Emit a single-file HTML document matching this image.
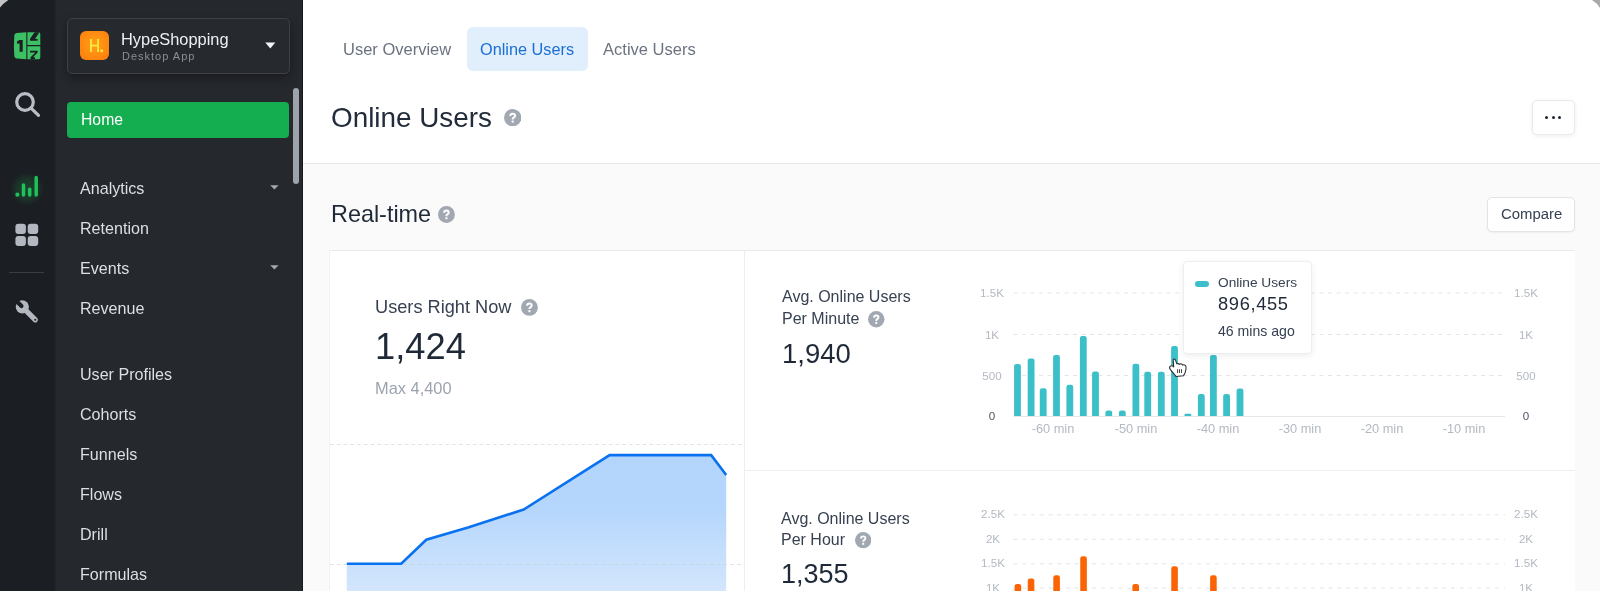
<!DOCTYPE html><html><head><meta charset="utf-8"><style>
*{margin:0;padding:0;box-sizing:border-box}
html,body{width:1600px;height:591px;overflow:hidden;background:#fff}
body{position:relative;font-family:"Liberation Sans",sans-serif}
.t{position:absolute;white-space:nowrap;will-change:transform}
.b{position:absolute}
</style></head><body>
<div class="b" style="left:302px;top:0px;width:1298px;height:163px;background:#fff"></div>
<div class="b" style="left:302px;top:163px;width:1298px;height:428px;background:#fafafa;border-top:1px solid #e9e9ea"></div>
<div class="b" style="left:0px;top:0px;width:53px;height:591px;background:#1b1e22"></div>
<svg class="b" style="left:0;top:0" width="12" height="12"><path d="M0 0H8.3Q3.2 3.4 0 7.6Z" fill="#c3c3c3"/></svg>
<svg class="b" style="left:1588px;top:0" width="12" height="12"><path d="M12 0H3.9Q9 3 12 8Z" fill="#a9aaac"/></svg>
<svg class="b" style="left:10px;top:28px" width="35" height="35" viewBox="0 0 35 35">
<path d="M4.3 7.6Q4.5 5.3 6.7 5L16.3 4.3V31.2L6.7 30.5Q4.5 30.2 4.3 27.9Q3.5 17.8 4.3 7.6Z" fill="#3cc064"/>
<path d="M9.6 11.9H12.7V23.7H9.6V15.4L7.1 15.8V13.2Z" fill="#1b1e22"/>
<path d="M17.4 4.3H28.6Q30.3 4.3 30.3 6V17.1H17.4Z" fill="#3cc064"/>
<path d="M17.4 18.2H30.3V29.5Q30.3 31.2 28.6 31.2H17.4Z" fill="#3cc064"/>
<path d="M20.05 12.8V10.7L24.6 4.2H29.4L25 10.9H27.6V12.8Z" fill="#1b1e22"/>
<path d="M20.05 22.8H27.6V24.4L23 29.2H25V31.3H20.6V29.2L25.4 24.4H20.05Z" fill="#1b1e22"/>
</svg>
<svg class="b" style="left:13px;top:90px" width="28" height="28" viewBox="0 0 28 28">
<circle cx="12" cy="12" r="8.3" fill="none" stroke="#b9bec6" stroke-width="3.2"/>
<path d="M18.3 18.3L25.5 25.3" stroke="#b9bec6" stroke-width="3.2" stroke-linecap="round"/>
</svg>
<div class="b" style="left:10px;top:172px;width:34px;height:34px;border-radius:50%;background:radial-gradient(circle,rgba(30,185,85,0.26) 0%,rgba(30,185,85,0.13) 45%,rgba(30,185,85,0) 70%)"></div>
<svg class="b" style="left:13px;top:172px" width="28" height="28" viewBox="0 0 28 28">
<g stroke="#1ec15a" stroke-width="3.5" stroke-linecap="round">
<path d="M4.4 22.6V22.7" stroke-width="4.1"/><path d="M10.5 13V23"/><path d="M16.7 17.3V23"/><path d="M23.2 5.5V23"/>
</g></svg>
<svg class="b" style="left:13px;top:221px" width="28" height="28" viewBox="0 0 28 28">
<g fill="#b3b8c0"><rect x="2.4" y="2.8" width="10.5" height="10.2" rx="3"/><rect x="14.7" y="2.8" width="10.5" height="10.2" rx="3"/>
<rect x="2.4" y="14.9" width="10.5" height="10.2" rx="3"/><rect x="14.7" y="14.9" width="10.5" height="10.2" rx="3"/></g></svg>
<div class="b" style="left:9px;top:272px;width:35px;height:1px;background:#3a3e44"></div>
<svg class="b" style="left:0;top:280px" width="53" height="50">
<g transform="translate(22.3 26.8) rotate(45)" fill="#b3b8c0">
<circle cx="0" cy="0" r="6.6"/>
<path d="M0 -2.6H18.4A2.6 2.6 0 0 1 18.4 2.6H0Z"/>
<path d="M-8 -2.1H-1.2A2.1 2.1 0 0 1 -1.2 2.1H-8Z" fill="#1b1e22"/>
<circle cx="18.3" cy="0" r="1.05" fill="#1b1e22"/>
</g></svg>
<div class="b" style="left:53px;top:0px;width:250px;height:591px;background:#25282d;border-right:1px solid #17191c"></div>
<div class="b" style="left:53px;top:0px;width:4px;height:591px;background:linear-gradient(90deg,rgba(20,22,25,0.6),rgba(20,22,25,0))"></div>
<div class="b" style="left:67px;top:18px;width:222.5px;height:55.5px;border:1px solid #3d4147;border-radius:5px;background:#26292e;box-shadow:0 4px 10px rgba(0,0,0,0.35)"></div>
<div class="b" style="left:80px;top:31px;width:29px;height:29px;border-radius:6px;background:radial-gradient(circle at 50% 45%,#ff9e1a 0%,#ff8a10 60%,#f97a0c 100%)"></div>
<svg class="b" style="left:80px;top:31px" width="29" height="29"><g stroke="#ffe93c" stroke-width="1.9" fill="none"><path d="M11 8.1V21.1M18.1 8.1V21.1M11 14.6H18.1"/></g><circle cx="21.7" cy="19.8" r="1.5" fill="#ffe93c"/></svg>
<div class="t" style="left:120.75px;top:31.11px;font-size:16.4px;line-height:16.4px;color:#eef0f2;">HypeShopping</div>
<div class="t" style="left:121.5px;top:51.29px;font-size:11px;line-height:11px;color:#8a8f97;letter-spacing:1.0px">Desktop App</div>
<svg class="b" style="left:265px;top:42px" width="11" height="7"><path d="M0.3 0.5H10.3L5.3 6.5Z" fill="#f3f4f6"/></svg>
<div class="b" style="left:293px;top:88px;width:6px;height:96px;background:#9ea3aa;border-radius:3px"></div>
<div class="b" style="left:67px;top:102.4px;width:222.3px;height:35.69999999999999px;background:#14ad4f;border-radius:4px"></div>
<div class="t" style="left:81px;top:112.46px;font-size:15.75px;line-height:15.75px;color:#ffffff;">Home</div>
<div class="t" style="left:80.3px;top:179.97px;font-size:16.1px;line-height:16.1px;color:#dcdfe3;">Analytics</div>
<svg class="b" style="left:269.5px;top:185.1px" width="9" height="5"><path d="M0.2 0.2H8.6L4.4 4.6Z" fill="#a3a8b0"/></svg>
<div class="t" style="left:80.3px;top:219.77px;font-size:16.1px;line-height:16.1px;color:#dcdfe3;">Retention</div>
<div class="t" style="left:80.3px;top:259.67px;font-size:16.1px;line-height:16.1px;color:#dcdfe3;">Events</div>
<svg class="b" style="left:269.5px;top:264.8px" width="9" height="5"><path d="M0.2 0.2H8.6L4.4 4.6Z" fill="#a3a8b0"/></svg>
<div class="t" style="left:80.3px;top:299.67px;font-size:16.1px;line-height:16.1px;color:#dcdfe3;">Revenue</div>
<div class="t" style="left:80.3px;top:366.47px;font-size:16.1px;line-height:16.1px;color:#dcdfe3;">User Profiles</div>
<div class="t" style="left:80.3px;top:406.47px;font-size:16.1px;line-height:16.1px;color:#dcdfe3;">Cohorts</div>
<div class="t" style="left:80.3px;top:446.47px;font-size:16.1px;line-height:16.1px;color:#dcdfe3;">Funnels</div>
<div class="t" style="left:80.3px;top:486.47px;font-size:16.1px;line-height:16.1px;color:#dcdfe3;">Flows</div>
<div class="t" style="left:80.3px;top:526.47px;font-size:16.1px;line-height:16.1px;color:#dcdfe3;">Drill</div>
<div class="t" style="left:80.3px;top:566.47px;font-size:16.1px;line-height:16.1px;color:#dcdfe3;">Formulas</div>
<div class="b" style="left:467px;top:27.1px;width:121.39999999999998px;height:44.4px;background:#e1eefc;border-radius:6px"></div>
<div class="t" style="left:343.1px;top:41.18px;font-size:16.5px;line-height:16.5px;color:#6b7280;">User Overview</div>
<div class="t" style="left:480.3px;top:41.35px;font-size:16.3px;line-height:16.3px;color:#1b6fd6;">Online Users</div>
<div class="t" style="left:602.6px;top:41.89px;font-size:16.55px;line-height:16.55px;color:#6b7280;">Active Users</div>
<div class="t" style="left:330.7px;top:103.72px;font-size:27.85px;line-height:27.85px;color:#222c3a;">Online Users</div>
<svg class="b" style="left:503.90px;top:109.10px" width="17.40" height="17.40" viewBox="0 0 20 20"><circle cx="10" cy="10" r="10" fill="#a2a8b2"/><path d="M7.3 8.1C7.3 6.3 8.5 5.4 10 5.4C11.6 5.4 12.7 6.4 12.7 7.7C12.7 8.9 11.9 9.4 11.1 9.9C10.4 10.3 10 10.7 10 11.5V12" fill="none" stroke="#fff" stroke-width="2.3" stroke-linecap="butt"/><rect x="8.8" y="13.3" width="2.4" height="2.3" fill="#fff"/></svg>
<div class="b" style="left:1531.6px;top:100.2px;width:43.0px;height:35.10000000000001px;background:#fff;border:1px solid #e9eaec;border-radius:5px;box-shadow:0 1px 4px rgba(0,0,0,0.07)"></div>
<div class="b" style="left:1545.00px;top:116.3px;width:3.2px;height:3.2px;border-radius:50%;background:#1c2433"></div>
<div class="b" style="left:1551.60px;top:116.3px;width:3.2px;height:3.2px;border-radius:50%;background:#1c2433"></div>
<div class="b" style="left:1558.30px;top:116.3px;width:3.2px;height:3.2px;border-radius:50%;background:#1c2433"></div>
<div class="t" style="left:330.8px;top:202.84px;font-size:23.4px;line-height:23.4px;color:#1f2937;">Real-time</div>
<svg class="b" style="left:438.30px;top:206.40px" width="16.90" height="16.90" viewBox="0 0 20 20"><circle cx="10" cy="10" r="10" fill="#a2a8b2"/><path d="M7.3 8.1C7.3 6.3 8.5 5.4 10 5.4C11.6 5.4 12.7 6.4 12.7 7.7C12.7 8.9 11.9 9.4 11.1 9.9C10.4 10.3 10 10.7 10 11.5V12" fill="none" stroke="#fff" stroke-width="2.3" stroke-linecap="butt"/><rect x="8.8" y="13.3" width="2.4" height="2.3" fill="#fff"/></svg>
<div class="b" style="left:1486.5px;top:197.3px;width:88.59999999999991px;height:35.099999999999994px;background:#fff;border:1px solid #e3e4e7;border-radius:5px;box-shadow:0 1px 2px rgba(0,0,0,0.05)"></div>
<div class="t" style="left:1500.5px;top:207.28px;font-size:14.9px;line-height:14.9px;color:#374151;">Compare</div>
<div class="b" style="left:329px;top:250px;width:1246px;height:350px;background:#fff;border-top:1px solid #ebebeb;border-left:1px solid #f2f2f2"></div>
<div class="b" style="left:744px;top:251px;width:1px;height:340px;background:#eeeeee"></div>
<div class="b" style="left:745px;top:470px;width:830px;height:1px;background:#eeeeee"></div>
<div class="t" style="left:374.6px;top:297.59px;font-size:18.2px;line-height:18.2px;color:#374151;">Users Right Now</div>
<svg class="b" style="left:521.08px;top:298.72px" width="16.85" height="16.85" viewBox="0 0 20 20"><circle cx="10" cy="10" r="10" fill="#a2a8b2"/><path d="M7.3 8.1C7.3 6.3 8.5 5.4 10 5.4C11.6 5.4 12.7 6.4 12.7 7.7C12.7 8.9 11.9 9.4 11.1 9.9C10.4 10.3 10 10.7 10 11.5V12" fill="none" stroke="#fff" stroke-width="2.3" stroke-linecap="butt"/><rect x="8.8" y="13.3" width="2.4" height="2.3" fill="#fff"/></svg>
<div class="t" style="left:375.2px;top:328.76px;font-size:36.3px;line-height:36.3px;color:#1f2937;">1,424</div>
<div class="t" style="left:374.6px;top:379.71px;font-size:16.4px;line-height:16.4px;color:#9ca3af;">Max 4,400</div>
<svg class="b" style="left:0;top:0" width="1600" height="591">
<defs><linearGradient id="ag" x1="0" y1="455" x2="0" y2="591" gradientUnits="userSpaceOnUse">
<stop offset="0" stop-color="#b3d5fc"/><stop offset="0.4" stop-color="#b5d6fc"/><stop offset="1" stop-color="#d3e6fd"/></linearGradient></defs>
<path d="M330 444.5H744" stroke="#e3e3e5" stroke-width="1" stroke-dasharray="3.5 3.3"/>
<path d="M346.8 563.7L401.2 563.7L426.3 539.7L468 527.5L523.7 509.5L609.6 455.1L711.2 455.1L726.2 475V591H346.8Z" fill="url(#ag)"/>
<path d="M346.8 563.7L401.2 563.7L426.3 539.7L468 527.5L523.7 509.5L609.6 455.1L711.2 455.1L726.2 475" fill="none" stroke="#0a72f0" stroke-width="2.6" stroke-linejoin="miter"/>
<path d="M330 564.5H346.5M404 564.5H744" stroke="rgba(200,205,212,0.55)" stroke-width="1" stroke-dasharray="3.5 3.3"/>
</svg>
<div class="t" style="left:781.5px;top:289.25px;font-size:16px;line-height:16px;color:#374151;">Avg. Online Users</div>
<div class="t" style="left:781.5px;top:310.75px;font-size:16px;line-height:16px;color:#374151;">Per Minute</div>
<svg class="b" style="left:868.15px;top:311.25px" width="16.50" height="16.50" viewBox="0 0 20 20"><circle cx="10" cy="10" r="10" fill="#a2a8b2"/><path d="M7.3 8.1C7.3 6.3 8.5 5.4 10 5.4C11.6 5.4 12.7 6.4 12.7 7.7C12.7 8.9 11.9 9.4 11.1 9.9C10.4 10.3 10 10.7 10 11.5V12" fill="none" stroke="#fff" stroke-width="2.3" stroke-linecap="butt"/><rect x="8.8" y="13.3" width="2.4" height="2.3" fill="#fff"/></svg>
<div class="t" style="left:781.5px;top:339.62px;font-size:27.5px;line-height:27.5px;color:#1f2937;">1,940</div>
<svg class="b" style="left:0;top:0" width="1600" height="591">
<defs><clipPath id="cp1"><rect x="1000" y="250" width="560" height="166"/></clipPath><clipPath id="cp2"><rect x="1000" y="480" width="560" height="111"/></clipPath></defs>
<path d="M1013.5 293H1505" stroke="#e4e5e8" stroke-width="1" stroke-dasharray="4 4.5"/>
<path d="M1013.5 334.5H1505" stroke="#e4e5e8" stroke-width="1" stroke-dasharray="4 4.5"/>
<path d="M1013.5 375.5H1505" stroke="#e4e5e8" stroke-width="1" stroke-dasharray="4 4.5"/>
<path d="M1013.5 416.5H1505" stroke="#e6e7ea" stroke-width="1"/>
<path d="M1014.1 416V366.40A2.5 2.5 0 0 1 1019.1 366.40V416Z" fill="none"/>
<rect x="1014.1" y="363.9" width="6.8" height="55.40" rx="2.30" fill="#3bbfc8" clip-path="url(#cp1)"/>
<path d="M1027.7 416V361.00A2.5 2.5 0 0 1 1032.7 361.00V416Z" fill="none"/>
<rect x="1027.7" y="358.5" width="6.8" height="60.80" rx="2.30" fill="#3bbfc8" clip-path="url(#cp1)"/>
<path d="M1039.8 416V390.80A2.5 2.5 0 0 1 1044.8 390.80V416Z" fill="none"/>
<rect x="1039.8" y="388.3" width="6.8" height="31.00" rx="2.30" fill="#3bbfc8" clip-path="url(#cp1)"/>
<path d="M1053.1 416V357.50A2.5 2.5 0 0 1 1058.1 357.50V416Z" fill="none"/>
<rect x="1053.1" y="355.0" width="6.8" height="64.30" rx="2.30" fill="#3bbfc8" clip-path="url(#cp1)"/>
<path d="M1066.4 416V387.30A2.5 2.5 0 0 1 1071.4 387.30V416Z" fill="none"/>
<rect x="1066.4" y="384.8" width="6.8" height="34.50" rx="2.30" fill="#3bbfc8" clip-path="url(#cp1)"/>
<path d="M1079.9 416V338.50A2.5 2.5 0 0 1 1084.9 338.50V416Z" fill="none"/>
<rect x="1079.9" y="336.0" width="6.8" height="83.30" rx="2.30" fill="#3bbfc8" clip-path="url(#cp1)"/>
<path d="M1092.1 416V374.00A2.5 2.5 0 0 1 1097.1 374.00V416Z" fill="none"/>
<rect x="1092.1" y="371.5" width="6.8" height="47.80" rx="2.30" fill="#3bbfc8" clip-path="url(#cp1)"/>
<path d="M1105.4 416V413.00A2.5 2.5 0 0 1 1110.4 413.00V416Z" fill="none"/>
<rect x="1105.4" y="410.5" width="6.8" height="8.25" rx="2.30" fill="#3bbfc8" clip-path="url(#cp1)"/>
<path d="M1118.9 416V413.00A2.5 2.5 0 0 1 1123.9 413.00V416Z" fill="none"/>
<rect x="1118.9" y="410.5" width="6.8" height="8.25" rx="2.30" fill="#3bbfc8" clip-path="url(#cp1)"/>
<path d="M1132.5 416V366.20A2.5 2.5 0 0 1 1137.5 366.20V416Z" fill="none"/>
<rect x="1132.5" y="363.7" width="6.8" height="55.60" rx="2.30" fill="#3bbfc8" clip-path="url(#cp1)"/>
<path d="M1144.3 416V374.30A2.5 2.5 0 0 1 1149.3 374.30V416Z" fill="none"/>
<rect x="1144.3" y="371.8" width="6.8" height="47.50" rx="2.30" fill="#3bbfc8" clip-path="url(#cp1)"/>
<path d="M1157.9 416V374.30A2.5 2.5 0 0 1 1162.9 374.30V416Z" fill="none"/>
<rect x="1157.9" y="371.8" width="6.8" height="47.50" rx="2.30" fill="#3bbfc8" clip-path="url(#cp1)"/>
<path d="M1171.1 416V348.50A2.5 2.5 0 0 1 1176.1 348.50V416Z" fill="none"/>
<rect x="1171.1" y="346.0" width="6.8" height="73.30" rx="2.30" fill="#3bbfc8" clip-path="url(#cp1)"/>
<path d="M1184.5 416V416.30A2.5 2.5 0 0 1 1189.5 416.30V416Z" fill="none"/>
<rect x="1184.5" y="413.8" width="6.8" height="3.30" rx="1.10" fill="#3bbfc8" clip-path="url(#cp1)"/>
<path d="M1197.9 416V396.40A2.5 2.5 0 0 1 1202.9 396.40V416Z" fill="none"/>
<rect x="1197.9" y="393.9" width="6.8" height="25.40" rx="2.30" fill="#3bbfc8" clip-path="url(#cp1)"/>
<path d="M1210.0 416V357.40A2.5 2.5 0 0 1 1215.0 357.40V416Z" fill="none"/>
<rect x="1210.0" y="354.9" width="6.8" height="64.40" rx="2.30" fill="#3bbfc8" clip-path="url(#cp1)"/>
<path d="M1223.2 416V396.40A2.5 2.5 0 0 1 1228.2 396.40V416Z" fill="none"/>
<rect x="1223.2" y="393.9" width="6.8" height="25.40" rx="2.30" fill="#3bbfc8" clip-path="url(#cp1)"/>
<path d="M1236.6 416V390.90A2.5 2.5 0 0 1 1241.6 390.90V416Z" fill="none"/>
<rect x="1236.6" y="388.4" width="6.8" height="30.90" rx="2.30" fill="#3bbfc8" clip-path="url(#cp1)"/>
</svg>
<div class="t" style="left:792.3px;width:400px;text-align:center;top:287.38px;font-size:11.6px;line-height:11.6px;color:#b3b9c2;">1.5K</div>
<div class="t" style="left:1326px;width:400px;text-align:center;top:287.38px;font-size:11.6px;line-height:11.6px;color:#b3b9c2;">1.5K</div>
<div class="t" style="left:792.3px;width:400px;text-align:center;top:328.78px;font-size:11.6px;line-height:11.6px;color:#b3b9c2;">1K</div>
<div class="t" style="left:1326px;width:400px;text-align:center;top:328.78px;font-size:11.6px;line-height:11.6px;color:#b3b9c2;">1K</div>
<div class="t" style="left:792.3px;width:400px;text-align:center;top:369.68px;font-size:11.6px;line-height:11.6px;color:#b3b9c2;">500</div>
<div class="t" style="left:1326px;width:400px;text-align:center;top:369.68px;font-size:11.6px;line-height:11.6px;color:#b3b9c2;">500</div>
<div class="t" style="left:792px;width:400px;text-align:center;top:410.38px;font-size:11.6px;line-height:11.6px;color:#4b5563;">0</div>
<div class="t" style="left:1325.7px;width:400px;text-align:center;top:410.38px;font-size:11.6px;line-height:11.6px;color:#4b5563;">0</div>
<div class="t" style="left:853.3px;width:400px;text-align:center;top:422.56px;font-size:12.8px;line-height:12.8px;color:#b3b9c2;">-60 min</div>
<div class="t" style="left:935.75px;width:400px;text-align:center;top:422.56px;font-size:12.8px;line-height:12.8px;color:#b3b9c2;">-50 min</div>
<div class="t" style="left:1018px;width:400px;text-align:center;top:422.56px;font-size:12.8px;line-height:12.8px;color:#b3b9c2;">-40 min</div>
<div class="t" style="left:1099.9px;width:400px;text-align:center;top:422.56px;font-size:12.8px;line-height:12.8px;color:#b3b9c2;">-30 min</div>
<div class="t" style="left:1182px;width:400px;text-align:center;top:422.56px;font-size:12.8px;line-height:12.8px;color:#b3b9c2;">-20 min</div>
<div class="t" style="left:1264px;width:400px;text-align:center;top:422.56px;font-size:12.8px;line-height:12.8px;color:#b3b9c2;">-10 min</div>
<div class="b" style="left:1183.2px;top:260.6px;width:128.89999999999986px;height:93.0px;background:#fff;border:1px solid #eceef0;border-radius:4px;box-shadow:0 2px 6px rgba(0,0,0,0.07)"></div>
<div class="b" style="left:1195.4px;top:280.5px;width:13.599999999999909px;height:6.699999999999989px;background:#3bbfc8;border-radius:4px"></div>
<div class="t" style="left:1218.1px;top:276.00px;font-size:13.7px;line-height:13.7px;color:#374151;">Online Users</div>
<div class="t" style="left:1218.3px;top:294.81px;font-size:18.3px;line-height:18.3px;color:#1f2937;letter-spacing:0.65px">896,455</div>
<div class="t" style="left:1218.3px;top:324.36px;font-size:14.1px;line-height:14.1px;color:#374151;">46 mins ago</div>
<svg class="b" style="left:1162px;top:352px" width="30" height="30" viewBox="0 0 30 30">
<path d="M11.2 7.9C11.6 6.8 12.9 6.8 13.4 7.9L14.9 11.9C15.7 11.3 16.8 11.6 17.3 12.4C18 11.7 19.5 11.5 20.2 12.5L20.6 13.1C21.6 12.5 23.5 12.8 23.9 14.2C24.3 15.6 23.9 18 23.2 20.4L21.5 23.8L14 24.4L8.4 17.6C7.5 16.4 7.5 14.9 8.3 14.2C9.3 13.4 10.6 13.8 11.7 14.9Z" fill="#fff" stroke="#2b2b2b" stroke-width="1.05" stroke-linejoin="round"/>
<path d="M15.6 17.2V21M17.5 17.2V21M19.5 17.2V21" stroke="#2b2b2b" stroke-width="0.9"/>
</svg>
<div class="t" style="left:781.4px;top:510.55px;font-size:16px;line-height:16px;color:#374151;">Avg. Online Users</div>
<div class="t" style="left:781.4px;top:532.05px;font-size:16px;line-height:16px;color:#374151;">Per Hour</div>
<svg class="b" style="left:854.83px;top:532.17px" width="16.35" height="16.35" viewBox="0 0 20 20"><circle cx="10" cy="10" r="10" fill="#a2a8b2"/><path d="M7.3 8.1C7.3 6.3 8.5 5.4 10 5.4C11.6 5.4 12.7 6.4 12.7 7.7C12.7 8.9 11.9 9.4 11.1 9.9C10.4 10.3 10 10.7 10 11.5V12" fill="none" stroke="#fff" stroke-width="2.3" stroke-linecap="butt"/><rect x="8.8" y="13.3" width="2.4" height="2.3" fill="#fff"/></svg>
<div class="t" style="left:781.4px;top:560.74px;font-size:27.0px;line-height:27.0px;color:#1f2937;">1,355</div>
<svg class="b" style="left:0;top:0" width="1600" height="591">
<path d="M1013.5 514.8H1505" stroke="#e4e5e8" stroke-width="1" stroke-dasharray="4 4.75"/>
<path d="M1013.5 539.3H1505" stroke="#e4e5e8" stroke-width="1" stroke-dasharray="4 4.75"/>
<path d="M1013.5 563.8H1505" stroke="#e4e5e8" stroke-width="1" stroke-dasharray="4 4.75"/>
<path d="M1013.5 588.1H1505" stroke="#e4e5e8" stroke-width="1" stroke-dasharray="4 4.75"/>
<rect x="1014.6" y="583.9" width="6.6" height="16.100000000000023" rx="2.3" fill="#fb6404"/>
<rect x="1027.75" y="578.5" width="6.6" height="21.5" rx="2.3" fill="#fb6404"/>
<rect x="1053.3" y="575.2" width="6.6" height="24.799999999999955" rx="2.3" fill="#fb6404"/>
<rect x="1080.25" y="556.25" width="6.6" height="43.75" rx="2.3" fill="#fb6404"/>
<rect x="1132.4" y="583.9" width="6.6" height="16.100000000000023" rx="2.3" fill="#fb6404"/>
<rect x="1171.25" y="566.2" width="6.6" height="33.799999999999955" rx="2.3" fill="#fb6404"/>
<rect x="1210.1" y="575.2" width="6.6" height="24.799999999999955" rx="2.3" fill="#fb6404"/>
</svg>
<div class="t" style="left:792.5px;width:400px;text-align:center;top:508.38px;font-size:11.6px;line-height:11.6px;color:#b3b9c2;">2.5K</div>
<div class="t" style="left:1326px;width:400px;text-align:center;top:508.38px;font-size:11.6px;line-height:11.6px;color:#b3b9c2;">2.5K</div>
<div class="t" style="left:792.5px;width:400px;text-align:center;top:532.88px;font-size:11.6px;line-height:11.6px;color:#b3b9c2;">2K</div>
<div class="t" style="left:1326px;width:400px;text-align:center;top:532.88px;font-size:11.6px;line-height:11.6px;color:#b3b9c2;">2K</div>
<div class="t" style="left:792.5px;width:400px;text-align:center;top:557.38px;font-size:11.6px;line-height:11.6px;color:#b3b9c2;">1.5K</div>
<div class="t" style="left:1326px;width:400px;text-align:center;top:557.38px;font-size:11.6px;line-height:11.6px;color:#b3b9c2;">1.5K</div>
<div class="t" style="left:792.5px;width:400px;text-align:center;top:581.68px;font-size:11.6px;line-height:11.6px;color:#b3b9c2;">1K</div>
<div class="t" style="left:1326px;width:400px;text-align:center;top:581.68px;font-size:11.6px;line-height:11.6px;color:#b3b9c2;">1K</div>
</body></html>
